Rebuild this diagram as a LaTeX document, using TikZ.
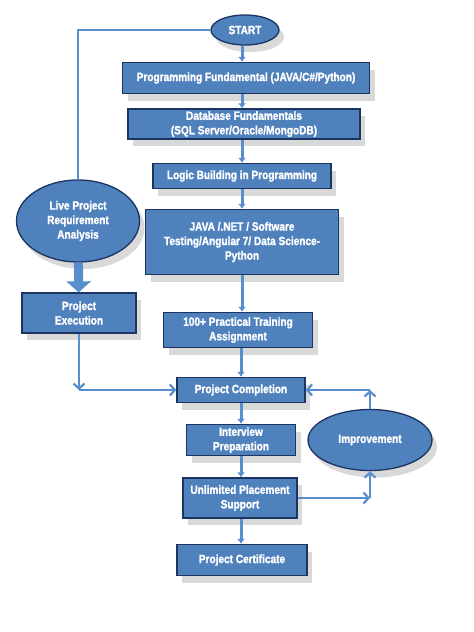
\documentclass[tikz,border=0pt]{standalone}
\usepackage{fontspec}
\setmainfont{Liberation Sans}[FakeStretch=0.84,BoldFeatures={FakeBold=1.5}]
\usetikzlibrary{arrows.meta,shadows,shapes.geometric}
\definecolor{boxblue}{RGB}{79,129,189}
\definecolor{boxline}{RGB}{28,52,98}
\definecolor{linkblue}{RGB}{88,142,206}
\tikzset{
  box/.style={rectangle,draw=boxline,line width=1.3pt,fill=boxblue,text=white,
    font=\bfseries\fontsize{12}{14.5}\selectfont,align=center,inner sep=2pt,
    drop shadow={opacity=0.3,shadow xshift=5pt,shadow yshift=-7pt}},
  oval/.style={box,ellipse},
  link/.style={draw=linkblue,line width=3pt,-{Latex[length=5pt,width=8pt]}},
  side/.style={draw=linkblue,line width=2.2pt,-{Straight Barb[length=5pt,width=11pt]}},
  fat/.style={draw=linkblue,line width=9pt,-{Triangle[length=11pt,width=24pt]}}
}
\begin{document}
\begin{tikzpicture}[x=1pt,y=-1pt]
  \useasboundingbox (0,0) rectangle (474,632);
  \draw
    (245,30) node[oval,minimum width=68pt,minimum height=30pt] (start){START}
    (246,78) node[box,minimum width=247pt,minimum height=31pt] (prog){Programming Fundamental (JAVA/C\#/Python)}
    (244,124) node[box,minimum width=232pt,minimum height=30pt] (db){Database Fundamentals\\(SQL Server/Oracle/MongoDB)}
    (242,176) node[box,minimum width=178pt,minimum height=25pt] (logic){Logic Building in Programming}
    (242,242) node[box,minimum width=193pt,minimum height=65pt] (java){JAVA /.NET / Software\\Testing/Angular 7/ Data Science-\\Python}
    (238,330) node[box,minimum width=149pt,minimum height=35pt] (prac){100+ Practical Training\\Assignment}
    (241,390) node[box,minimum width=128pt,minimum height=25pt] (compl){Project Completion}
    (241,440) node[box,minimum width=109pt,minimum height=31pt] (interv){Interview\\Preparation}
    (240,498) node[box,minimum width=114pt,minimum height=40pt] (place){Unlimited Placement\\Support}
    (242,560) node[box,minimum width=130pt,minimum height=31pt] (cert){Project Certificate}
    (370,440) node[oval,minimum width=124pt,minimum height=61pt] (improve){Improvement}
    (78,221) node[oval,minimum width=123pt,minimum height=82pt] (live){Live Project\\Requirement\\Analysis}
    (79,313) node[box,minimum width=114pt,minimum height=40pt] (exec){Project\\Execution};
  \coordinate (k1) at (exec |- compl);
  \coordinate (k2) at (improve |- place);
  \coordinate (k3) at (improve |- compl);
  \begin{scope}[link]
    \draw (start.south -| logic) to (prog.north -| logic);
    \draw (prog.south -| logic) to (db.north -| logic);
    \draw (db.south -| logic) to (logic.north);
    \draw (logic) to (java);
    \draw (java.south) to (prac.north -| java);
    \draw (prac.south -| compl) to (compl.north);
    \draw (compl) to (interv);
    \draw (interv.south) to (place.north -| interv);
    \draw (place.south -| interv) to (cert.north -| interv);
  \end{scope}
  \draw[draw=linkblue,line width=2.2pt] (start.west) -| (live.north);
  \draw[fat] (live) to (exec);
  \begin{scope}[side]
    \draw (exec) to (k1);
    \draw (k1) to (compl);
    \draw (place) to (k2);
    \draw (k2) to (improve);
    \draw (improve) to (k3);
    \draw (k3) to (compl);
  \end{scope}
\end{tikzpicture}
\end{document}
